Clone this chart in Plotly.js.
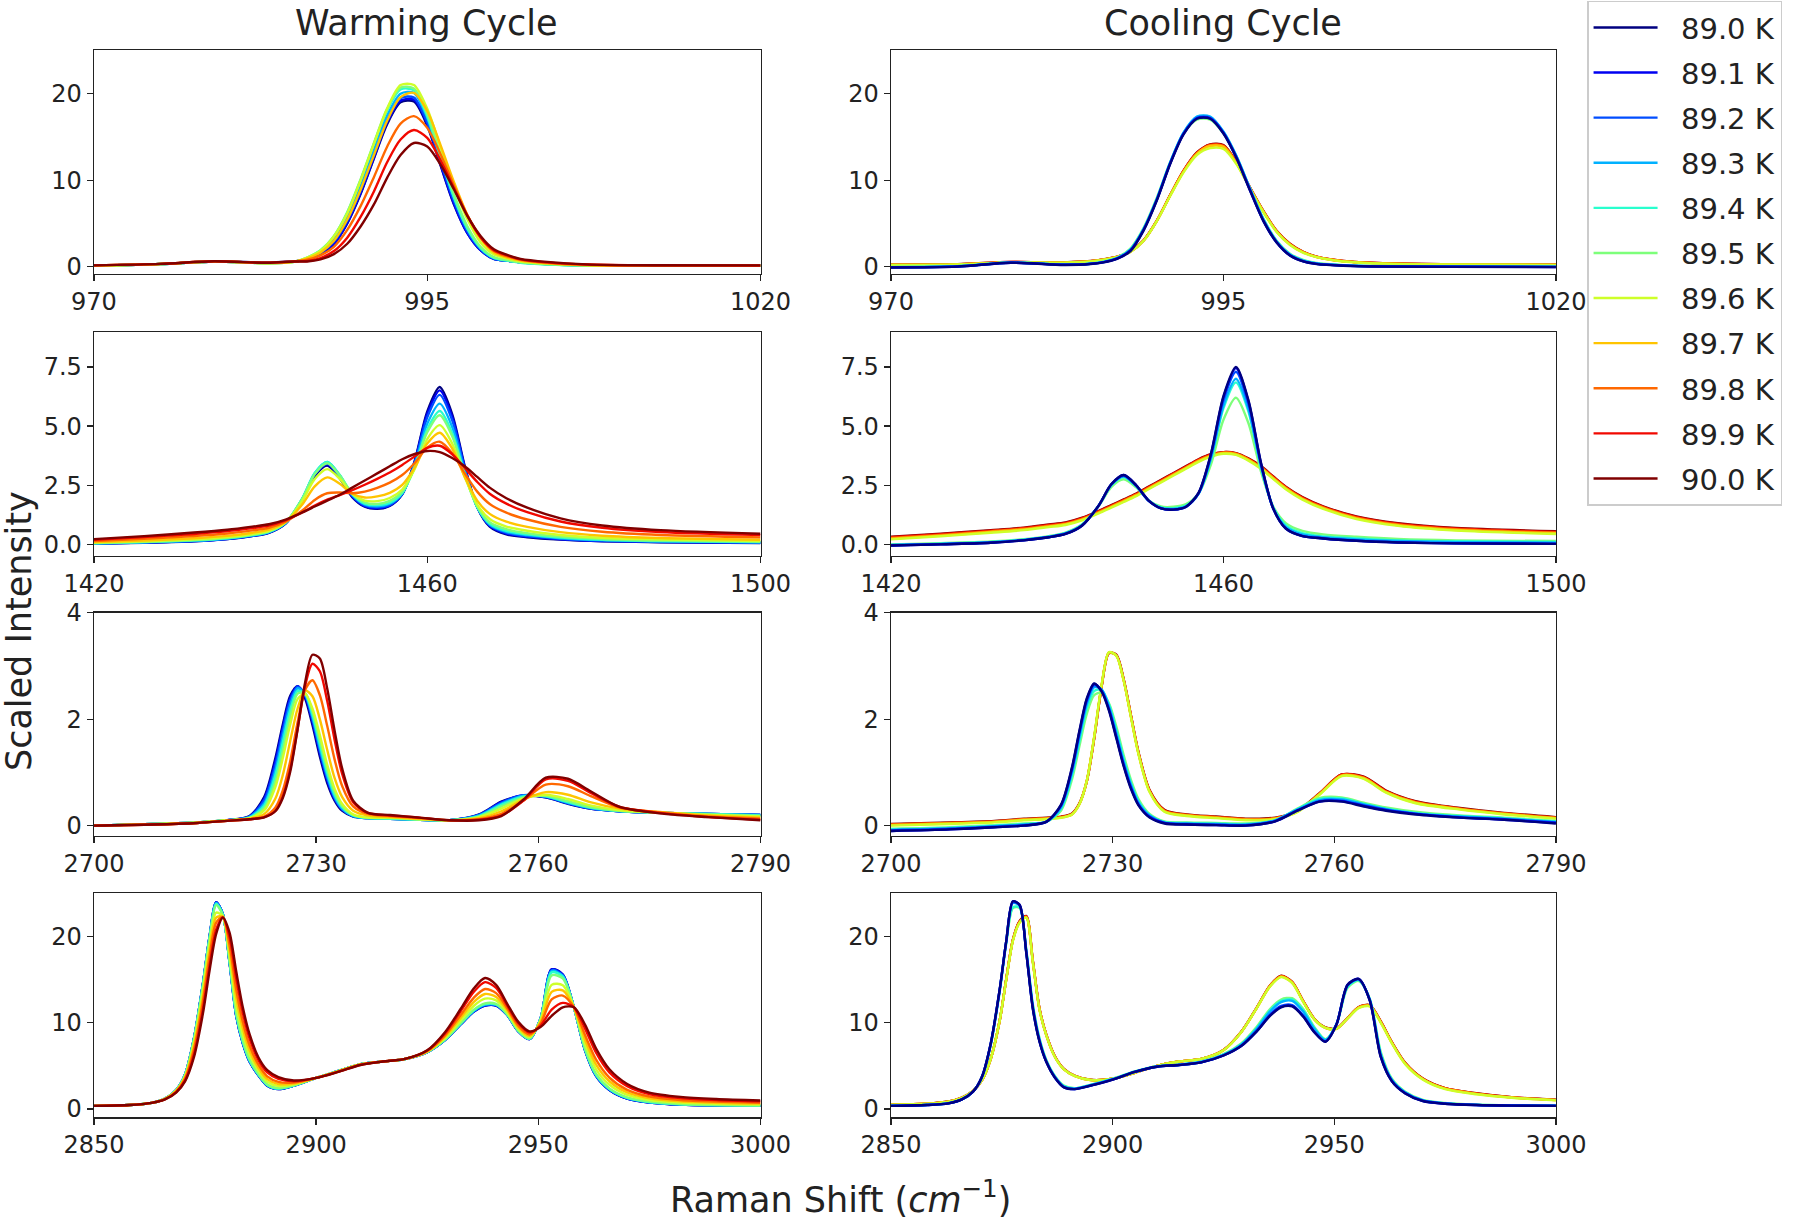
<!DOCTYPE html>
<html>
<head>
<meta charset="utf-8">
<script src="https://cdn.plot.ly/plotly-3.0.1.min.js"></script>
<style>html,body{margin:0;padding:0;background:#fff;}#chart{width:1800px;height:1220px;}</style>
</head>
<body>
<div id="chart"></div>
<script>
// ---- legend labels and colours (jet colormap) ----
const TEMPS = ['89.0 K','89.1 K','89.2 K','89.3 K','89.4 K','89.5 K','89.6 K','89.7 K','89.8 K','89.9 K','90.0 K'];
const COLORS = ['#000080','#0000f1','#004dff','#00b1ff','#29ffce','#7dff7a','#ceff29','#ffc400','#ff6800','#f10800','#800000'];

// ---- tick values ----
const TICKS_X1 = [970, 995, 1020], TICKS_Y1 = [0, 10, 20];
const TICKS_X2 = [1420, 1460, 1500], TICKS_Y2 = [0, 2.5, 5, 7.5];
const TICKS_X3 = [2700, 2730, 2760, 2790], TICKS_Y3 = [0, 2, 4];
const TICKS_X4 = [2850, 2900, 2950, 3000], TICKS_Y4 = [0, 10, 20];

// ---- Raman shift sample positions ----
const X1 = [970,975,979,983,985,986,987,988,989,990,991,992,993,994,995,996,997,998,999,1000,1001,1002,1004,1007,1012,1020];
const X2 = [1420,1426,1432,1436,1439,1441,1443,1445,1446.5,1448,1449.5,1451,1452.5,1454,1455.5,1457,1458.5,1460,1461.5,1463,1464.5,1466,1467.5,1469.5,1472,1476,1481,1488,1500];
const X3 = [2700,2708,2714,2718,2721,2723,2724.5,2725.5,2726.5,2727.5,2728.5,2729.5,2730.5,2731.5,2732.5,2733.5,2735,2737,2740,2744,2748,2752,2755,2758,2761,2764,2767,2771,2777,2783,2790];
const X4 = [2850,2858,2863,2866,2868.5,2870.5,2872.5,2874.5,2876,2877.5,2879,2880.5,2882,2883.5,2885,2887,2889,2891.5,2895,2900,2905,2910,2915,2920,2925,2929,2932.5,2935.5,2938,2940.5,2943,2945.5,2948,2950.5,2953,2955.5,2958,2960.5,2963,2966,2970,2975,2982,2990,3000];

// ---- Warming cycle, band 1 ----
const W1_890 = [0.1,0.3,0.6,0.5,0.6,0.85,1.4,2.6,5.0,8.4,12.5,16.5,19.0,19.1,16.3,11.7,7.2,3.9,1.9,0.9,0.7,0.5,0.3,0.15,0.1,0.1];
const W1_891 = [0.1,0.3,0.6,0.45,0.6,0.85,1.4,2.6,5.05,8.5,12.6,16.7,19.2,19.3,16.5,11.8,7.3,3.9,1.9,0.9,0.7,0.5,0.3,0.15,0.1,0.1];
const W1_892 = [0.1,0.3,0.6,0.45,0.6,0.9,1.6,2.9,5.35,8.85,13.0,17.0,19.5,19.55,16.7,12.1,7.6,4.1,2.0,0.9,0.7,0.5,0.3,0.15,0.1,0.1];
const W1_893 = [0.1,0.3,0.6,0.4,0.55,0.95,1.7,3.2,5.75,9.3,13.5,17.5,20.0,20.1,17.2,12.6,8.1,4.5,2.2,1.0,0.7,0.5,0.27,0.13,0.1,0.1];
const W1_894 = [0.1,0.3,0.6,0.4,0.55,1.05,1.9,3.5,6.25,10.0,14.2,18.1,20.5,20.4,17.4,12.6,8.0,4.4,2.15,1.0,0.7,0.45,0.25,0.12,0.1,0.1];
const W1_895 = [0.1,0.3,0.6,0.4,0.55,1.05,1.9,3.55,6.3,10.1,14.3,18.3,20.7,20.6,17.65,13.0,8.4,4.7,2.3,1.1,0.75,0.5,0.27,0.13,0.1,0.1];
const W1_896 = [0.1,0.3,0.6,0.4,0.55,1.05,1.85,3.5,6.15,9.95,14.2,18.3,21.0,21.0,18.25,13.8,9.3,5.5,2.8,1.4,0.95,0.6,0.35,0.15,0.1,0.1];
const W1_897 = [0.12,0.3,0.6,0.42,0.57,0.95,1.65,3.0,5.45,8.9,12.9,16.9,19.6,20.1,18.0,14.05,9.8,6.0,3.25,1.65,1.05,0.7,0.4,0.2,0.12,0.12];
const W1_898 = [0.15,0.32,0.62,0.45,0.6,0.8,1.3,2.3,4.25,7.0,10.35,13.9,16.55,17.4,16.05,13.0,9.4,6.0,3.4,1.8,1.2,0.8,0.45,0.22,0.14,0.13];
const W1_899 = [0.15,0.32,0.62,0.45,0.6,0.65,1.0,1.8,3.35,5.75,8.7,12.1,14.7,15.8,14.9,12.3,9.1,5.9,3.4,1.9,1.3,0.85,0.5,0.25,0.15,0.14];
const W1_900 = [0.15,0.32,0.62,0.45,0.6,0.6,0.85,1.45,2.65,4.65,7.2,10.3,12.9,14.3,13.9,11.8,8.95,5.9,3.55,2.0,1.35,0.9,0.55,0.27,0.16,0.15];

// ---- Cooling cycle, band 1 ----
const C1_890 = [-0.1,0.0,0.45,0.2,0.3,0.5,0.9,1.8,4.2,7.7,11.9,15.3,17.1,17.1,15.4,12.5,8.8,5.3,2.8,1.3,0.6,0.3,0.1,0.0,-0.02,-0.05];
const C1_891 = [-0.08,0.02,0.46,0.22,0.32,0.52,0.92,1.85,4.25,7.75,11.95,15.35,17.15,17.15,15.45,12.5,8.8,5.3,2.8,1.3,0.62,0.32,0.12,0.02,0.0,-0.04];
const C1_892 = [-0.07,0.03,0.47,0.23,0.33,0.53,0.95,1.9,4.3,7.8,12.0,15.4,17.2,17.2,15.5,12.6,8.9,5.35,2.85,1.35,0.65,0.33,0.13,0.03,0.0,-0.03];
const C1_893 = [-0.06,0.04,0.48,0.24,0.34,0.55,0.97,1.95,4.35,7.85,12.05,15.5,17.35,17.35,15.6,12.7,9.0,5.45,2.9,1.4,0.7,0.36,0.15,0.04,0.01,-0.02];
const C1_894 = [-0.05,0.05,0.48,0.25,0.35,0.56,1.0,2.0,4.4,7.9,12.1,15.5,17.3,17.3,15.6,12.7,9.0,5.5,2.95,1.45,0.72,0.38,0.16,0.05,0.02,-0.01];
const C1_895 = [-0.04,0.06,0.5,0.27,0.37,0.6,1.05,2.1,4.5,8.0,12.1,15.4,17.0,17.0,15.4,12.6,9.0,5.55,3.0,1.5,0.78,0.42,0.18,0.07,0.03,0.0];
const C1_896 = [0.2,0.25,0.5,0.45,0.6,0.8,1.1,1.7,3.0,5.3,8.2,10.9,12.9,13.7,13.6,11.8,9.0,6.3,4.0,2.5,1.6,1.1,0.6,0.35,0.25,0.2];
const C1_897 = [0.21,0.26,0.52,0.47,0.62,0.82,1.12,1.72,3.02,5.32,8.25,11.0,13.05,13.95,13.85,11.9,9.05,6.35,4.05,2.55,1.65,1.12,0.62,0.37,0.26,0.21];
const C1_898 = [0.22,0.27,0.53,0.48,0.63,0.83,1.13,1.73,3.03,5.33,8.28,11.05,13.1,14.05,13.95,11.95,9.1,6.4,4.1,2.6,1.68,1.14,0.64,0.38,0.27,0.22];
const C1_899 = [0.23,0.28,0.54,0.49,0.64,0.84,1.14,1.74,3.04,5.34,8.3,11.1,13.15,14.1,14.0,12.0,9.12,6.42,4.12,2.62,1.7,1.15,0.65,0.39,0.28,0.23];
const C1_900 = [0.24,0.29,0.55,0.5,0.65,0.85,1.15,1.75,3.05,5.35,8.3,11.1,13.2,14.15,14.05,12.0,9.15,6.45,4.15,2.65,1.72,1.16,0.66,0.4,0.29,0.24];

// ---- Warming cycle, band 2 ----
const W2_890 = [0.03,0.07,0.13,0.22,0.35,0.49,0.88,1.86,2.89,3.33,2.79,2.0,1.59,1.5,1.62,2.11,3.53,5.61,6.65,5.5,3.31,1.57,0.75,0.42,0.3,0.2,0.13,0.09,0.06];
const W2_891 = [0.034,0.076,0.137,0.228,0.358,0.5,0.89,1.89,2.94,3.39,2.85,2.03,1.62,1.53,1.65,2.13,3.5,5.51,6.51,5.39,3.26,1.58,0.78,0.45,0.325,0.218,0.143,0.1,0.068];
const W2_892 = [0.038,0.081,0.145,0.236,0.366,0.51,0.9,1.91,2.97,3.43,2.87,2.06,1.65,1.57,1.67,2.15,3.45,5.37,6.32,5.24,3.2,1.58,0.81,0.49,0.35,0.236,0.157,0.11,0.076];
const W2_893 = [0.043,0.09,0.156,0.248,0.378,0.52,0.91,1.93,3.01,3.48,2.92,2.1,1.69,1.61,1.72,2.15,3.36,5.1,5.95,4.96,3.08,1.58,0.84,0.53,0.39,0.26,0.18,0.13,0.09];
const W2_894 = [0.049,0.098,0.167,0.26,0.39,0.53,0.92,1.94,3.02,3.48,2.93,2.12,1.72,1.66,1.76,2.17,3.27,4.87,5.64,4.71,2.97,1.57,0.88,0.57,0.425,0.29,0.197,0.141,0.099];
const W2_895 = [0.057,0.109,0.182,0.276,0.406,0.55,0.93,1.92,2.97,3.43,2.91,2.15,1.77,1.71,1.84,2.23,3.25,4.74,5.46,4.57,2.94,1.61,0.94,0.64,0.475,0.326,0.224,0.161,0.114];
const W2_896 = [0.072,0.129,0.211,0.308,0.438,0.57,0.93,1.83,2.76,3.18,2.77,2.14,1.85,1.83,1.96,2.32,3.19,4.45,5.04,4.26,2.85,1.68,1.07,0.75,0.575,0.398,0.277,0.202,0.145];
const W2_897 = [0.097,0.165,0.26,0.36,0.49,0.62,0.94,1.69,2.45,2.83,2.56,2.14,1.98,2.03,2.18,2.51,3.25,4.26,4.72,4.05,2.86,1.85,1.29,0.96,0.74,0.515,0.365,0.27,0.197];
const W2_898 = [0.144,0.238,0.352,0.46,0.59,0.702,0.96,1.43,1.88,2.16,2.19,2.16,2.23,2.39,2.61,2.93,3.44,4.09,4.34,3.85,3.0,2.23,1.71,1.34,1.05,0.74,0.532,0.396,0.294];
const W2_899 = [0.19,0.31,0.44,0.56,0.69,0.79,1.01,1.35,1.64,1.89,2.08,2.29,2.52,2.77,3.04,3.36,3.72,4.08,4.17,3.81,3.23,2.64,2.14,1.72,1.36,0.965,0.7,0.52,0.39];
const W2_900 = [0.22,0.35,0.5,0.62,0.75,0.85,1.05,1.35,1.6,1.85,2.1,2.4,2.7,3.0,3.3,3.6,3.82,3.95,3.9,3.65,3.3,2.85,2.4,1.95,1.55,1.1,0.8,0.6,0.45];

// ---- Cooling cycle, band 2 ----
const C2_890 = [-0.05,0.0,0.07,0.17,0.3,0.44,0.8,1.65,2.54,2.93,2.5,1.85,1.52,1.47,1.59,2.18,3.84,6.27,7.5,6.1,3.47,1.51,0.67,0.35,0.25,0.15,0.08,0.04,0.02];
const C2_891 = [-0.05,0.0,0.07,0.17,0.3,0.44,0.8,1.65,2.54,2.93,2.5,1.85,1.52,1.47,1.59,2.17,3.82,6.22,7.45,6.06,3.45,1.5,0.67,0.35,0.25,0.15,0.08,0.04,0.02];
const C2_892 = [-0.04,0.01,0.08,0.18,0.31,0.45,0.8,1.64,2.52,2.9,2.48,1.84,1.52,1.47,1.58,2.15,3.75,6.1,7.3,5.94,3.4,1.5,0.68,0.36,0.26,0.16,0.09,0.05,0.03];
const C2_893 = [-0.03,0.02,0.09,0.19,0.32,0.47,0.82,1.65,2.52,2.88,2.47,1.85,1.54,1.5,1.61,2.14,3.65,5.87,7.0,5.72,3.32,1.53,0.74,0.42,0.3,0.21,0.14,0.09,0.07];
const C2_894 = [-0.02,0.03,0.1,0.2,0.33,0.48,0.83,1.65,2.5,2.85,2.46,1.86,1.56,1.53,1.64,2.15,3.6,5.76,6.85,5.62,3.3,1.56,0.8,0.47,0.33,0.25,0.17,0.13,0.1];
const C2_895 = [0.0,0.05,0.12,0.22,0.35,0.5,0.85,1.62,2.42,2.75,2.41,1.86,1.6,1.59,1.7,2.15,3.38,5.27,6.2,5.13,3.1,1.59,0.9,0.57,0.42,0.32,0.23,0.17,0.14];
const C2_896 = [0.21,0.34,0.49,0.6,0.73,0.82,1.02,1.31,1.55,1.79,2.04,2.33,2.62,2.91,3.2,3.49,3.71,3.83,3.78,3.54,3.2,2.76,2.33,1.89,1.5,1.07,0.78,0.58,0.44];
const C2_897 = [0.24,0.37,0.52,0.63,0.76,0.85,1.05,1.34,1.58,1.82,2.07,2.36,2.65,2.94,3.23,3.52,3.74,3.86,3.81,3.57,3.23,2.79,2.36,1.92,1.53,1.1,0.81,0.61,0.47];
const C2_898 = [0.27,0.4,0.55,0.66,0.79,0.88,1.08,1.37,1.61,1.85,2.1,2.39,2.68,2.97,3.26,3.55,3.77,3.88,3.83,3.6,3.26,2.82,2.39,1.95,1.56,1.13,0.84,0.64,0.5];
const C2_899 = [0.3,0.43,0.58,0.69,0.82,0.91,1.11,1.4,1.64,1.88,2.13,2.42,2.71,3.0,3.29,3.58,3.8,3.9,3.85,3.62,3.29,2.85,2.42,1.98,1.59,1.16,0.87,0.67,0.53];
const C2_900 = [0.32,0.45,0.6,0.71,0.84,0.93,1.13,1.42,1.66,1.9,2.15,2.44,2.73,3.02,3.31,3.6,3.81,3.9,3.86,3.64,3.31,2.87,2.44,2.0,1.61,1.18,0.89,0.69,0.56];

// ---- Warming cycle, band 3 ----
const W3_890 = [0.0,0.03,0.06,0.1,0.18,0.54,1.27,1.9,2.44,2.62,2.39,1.89,1.3,0.8,0.47,0.28,0.17,0.14,0.13,0.11,0.1,0.21,0.45,0.56,0.53,0.41,0.32,0.27,0.24,0.22,0.2];
const W3_891 = [0.0,0.03,0.06,0.1,0.17,0.51,1.21,1.85,2.4,2.62,2.43,1.95,1.36,0.85,0.49,0.3,0.18,0.14,0.13,0.11,0.1,0.2,0.44,0.57,0.53,0.42,0.32,0.27,0.24,0.22,0.2];
const W3_892 = [0.0,0.03,0.06,0.1,0.17,0.48,1.14,1.78,2.35,2.61,2.46,2.0,1.41,0.89,0.52,0.31,0.18,0.14,0.13,0.11,0.1,0.2,0.43,0.57,0.54,0.42,0.33,0.27,0.24,0.22,0.2];
const W3_893 = [0.0,0.03,0.06,0.1,0.16,0.42,1.04,1.67,2.27,2.58,2.47,2.04,1.46,0.93,0.54,0.32,0.18,0.14,0.13,0.11,0.1,0.19,0.41,0.56,0.55,0.43,0.33,0.27,0.24,0.22,0.2];
const W3_894 = [0.0,0.03,0.06,0.1,0.15,0.38,0.95,1.56,2.17,2.53,2.48,2.09,1.53,0.99,0.58,0.35,0.19,0.14,0.13,0.11,0.1,0.18,0.39,0.55,0.55,0.44,0.34,0.28,0.24,0.22,0.19];
const W3_895 = [0.0,0.03,0.06,0.1,0.14,0.33,0.83,1.41,2.05,2.48,2.49,2.15,1.61,1.06,0.63,0.37,0.2,0.15,0.14,0.115,0.1,0.17,0.36,0.53,0.56,0.46,0.35,0.28,0.24,0.21,0.18];
const W3_896 = [0.0,0.03,0.06,0.1,0.14,0.29,0.73,1.27,1.9,2.38,2.48,2.2,1.7,1.14,0.69,0.41,0.21,0.15,0.15,0.12,0.1,0.16,0.32,0.51,0.58,0.5,0.38,0.29,0.24,0.2,0.17];
const W3_897 = [0.0,0.025,0.055,0.095,0.13,0.22,0.51,0.95,1.59,2.2,2.54,2.43,2.0,1.42,0.89,0.54,0.28,0.19,0.16,0.13,0.1,0.14,0.27,0.49,0.63,0.58,0.44,0.32,0.25,0.19,0.15];
const W3_898 = [0.0,0.02,0.05,0.09,0.12,0.17,0.34,0.66,1.21,1.94,2.55,2.73,2.45,1.87,1.24,0.75,0.36,0.22,0.18,0.14,0.1,0.12,0.22,0.47,0.77,0.74,0.56,0.34,0.24,0.17,0.13];
const W3_899 = [0.0,0.02,0.05,0.09,0.12,0.16,0.28,0.55,1.06,1.82,2.62,3.04,2.9,2.34,1.61,0.98,0.44,0.24,0.19,0.15,0.1,0.11,0.19,0.47,0.87,0.84,0.62,0.35,0.23,0.16,0.11];
const W3_900 = [0.0,0.02,0.05,0.09,0.12,0.155,0.27,0.52,1.01,1.81,2.68,3.21,3.14,2.57,1.78,1.08,0.47,0.24,0.2,0.15,0.1,0.1,0.18,0.49,0.9,0.88,0.65,0.35,0.22,0.16,0.1];

// ---- Cooling cycle, band 3 ----
const C3_890 = [-0.1,-0.07,-0.03,0.0,0.07,0.39,1.1,1.78,2.39,2.67,2.52,2.16,1.64,1.11,0.68,0.38,0.15,0.04,0.02,0.01,0.0,0.08,0.28,0.45,0.45,0.36,0.28,0.21,0.15,0.11,0.04];
const C3_891 = [-0.1,-0.07,-0.03,0.0,0.07,0.38,1.08,1.76,2.37,2.66,2.53,2.18,1.66,1.13,0.7,0.39,0.16,0.05,0.02,0.01,0.0,0.08,0.28,0.45,0.46,0.37,0.29,0.22,0.15,0.11,0.05];
const C3_892 = [-0.09,-0.06,-0.02,0.01,0.07,0.37,1.05,1.73,2.34,2.64,2.54,2.2,1.68,1.15,0.72,0.4,0.17,0.05,0.03,0.02,0.01,0.09,0.29,0.46,0.47,0.38,0.3,0.22,0.16,0.12,0.06];
const C3_893 = [-0.08,-0.05,-0.01,0.02,0.07,0.34,1.0,1.66,2.28,2.6,2.56,2.24,1.74,1.2,0.76,0.43,0.19,0.06,0.04,0.03,0.02,0.1,0.3,0.48,0.49,0.4,0.31,0.23,0.17,0.13,0.07];
const C3_894 = [-0.07,-0.04,0.0,0.03,0.07,0.31,0.94,1.58,2.2,2.53,2.55,2.28,1.8,1.26,0.8,0.46,0.2,0.07,0.05,0.04,0.03,0.1,0.31,0.5,0.51,0.41,0.32,0.24,0.18,0.14,0.08];
const C3_895 = [-0.06,-0.03,0.01,0.04,0.07,0.28,0.87,1.49,2.1,2.45,2.5,2.3,1.86,1.32,0.85,0.5,0.22,0.08,0.06,0.05,0.04,0.1,0.32,0.52,0.53,0.43,0.34,0.26,0.19,0.15,0.09];
const C3_896 = [0.0,0.03,0.06,0.1,0.12,0.145,0.21,0.4,0.84,1.67,2.64,3.26,3.19,2.72,2.02,1.34,0.63,0.26,0.18,0.14,0.1,0.12,0.25,0.58,0.93,0.88,0.62,0.42,0.3,0.21,0.13];
const C3_897 = [0.01,0.04,0.07,0.11,0.13,0.15,0.21,0.4,0.84,1.66,2.63,3.25,3.19,2.72,2.03,1.35,0.64,0.27,0.19,0.15,0.11,0.13,0.26,0.59,0.94,0.89,0.63,0.43,0.31,0.22,0.14];
const C3_898 = [0.02,0.05,0.08,0.12,0.14,0.16,0.22,0.41,0.84,1.65,2.62,3.25,3.2,2.73,2.04,1.36,0.65,0.28,0.2,0.16,0.12,0.14,0.27,0.6,0.95,0.9,0.64,0.44,0.32,0.23,0.15];
const C3_899 = [0.02,0.05,0.08,0.12,0.14,0.16,0.22,0.41,0.83,1.64,2.61,3.25,3.2,2.74,2.05,1.37,0.66,0.29,0.2,0.16,0.12,0.14,0.27,0.6,0.96,0.91,0.65,0.45,0.32,0.23,0.15];
const C3_900 = [0.03,0.06,0.09,0.13,0.15,0.17,0.23,0.42,0.83,1.63,2.6,3.24,3.21,2.75,2.06,1.38,0.67,0.3,0.21,0.17,0.13,0.15,0.28,0.61,0.96,0.92,0.66,0.46,0.33,0.24,0.16];

// ---- Warming cycle, band 4 ----
const W4_890 = [0.35,0.45,0.7,1.2,2.2,4.0,8.2,14.5,20.0,24.0,22.6,17.0,10.8,7.6,5.5,3.9,2.7,2.3,2.7,3.6,4.4,5.2,5.5,5.8,6.6,8.0,9.8,11.3,12.0,12.0,10.9,9.0,8.1,10.5,16.2,15.6,11.8,6.8,3.8,2.2,1.2,0.75,0.5,0.4,0.35];
const W4_891 = [0.35,0.45,0.7,1.2,2.2,4.0,8.15,14.45,19.95,24.0,22.65,17.05,10.85,7.6,5.5,3.9,2.7,2.3,2.7,3.6,4.4,5.2,5.5,5.8,6.6,8.0,9.8,11.3,12.0,12.0,10.9,9.0,8.1,10.5,16.2,15.6,11.8,6.85,3.85,2.2,1.2,0.75,0.5,0.4,0.35];
const W4_892 = [0.35,0.45,0.7,1.2,2.2,3.99,8.15,14.4,19.9,23.95,22.6,17.1,10.9,7.7,5.55,3.95,2.75,2.33,2.71,3.6,4.4,5.2,5.5,5.8,6.6,8.02,9.84,11.35,12.06,12.05,10.93,9.02,8.12,10.48,16.1,15.5,11.8,6.86,3.86,2.25,1.23,0.77,0.52,0.42,0.36];
const W4_893 = [0.35,0.45,0.7,1.2,2.19,3.98,8.13,14.4,19.9,23.9,22.6,17.1,10.96,7.73,5.6,3.96,2.75,2.34,2.72,3.6,4.4,5.2,5.5,5.8,6.61,8.03,9.85,11.38,12.1,12.07,10.94,9.03,8.13,10.47,16.0,15.45,11.8,6.89,3.9,2.27,1.25,0.78,0.53,0.42,0.37];
const W4_894 = [0.35,0.45,0.7,1.2,2.19,3.96,8.09,14.33,19.8,23.8,22.55,17.18,11.06,7.81,5.66,4.0,2.79,2.37,2.73,3.6,4.4,5.2,5.5,5.8,6.61,8.05,9.89,11.44,12.16,12.12,10.97,9.06,8.15,10.45,15.85,15.35,11.8,6.95,3.96,2.32,1.29,0.81,0.55,0.44,0.38];
const W4_895 = [0.35,0.45,0.7,1.19,2.18,3.94,8.02,14.22,19.68,23.65,22.5,17.28,11.22,7.94,5.76,4.07,2.84,2.41,2.75,3.6,4.39,5.19,5.5,5.8,6.62,8.07,9.94,11.52,12.26,12.19,11.0,9.09,8.17,10.42,15.5,15.15,11.8,7.04,4.06,2.39,1.34,0.84,0.57,0.46,0.4];
const W4_896 = [0.35,0.45,0.7,1.18,2.13,3.8,7.65,13.63,19.0,22.78,22.35,17.88,12.1,8.65,6.3,4.43,3.15,2.65,2.85,3.6,4.38,5.18,5.5,5.8,6.65,8.23,10.25,11.98,12.8,12.6,11.23,9.28,8.33,10.25,14.4,14.35,11.8,7.55,4.6,2.8,1.63,1.04,0.73,0.59,0.51];
const W4_897 = [0.35,0.45,0.7,1.16,2.07,3.66,7.28,13.03,18.32,22.21,22.32,18.47,12.98,9.36,6.84,4.78,3.46,2.89,2.95,3.6,4.36,5.16,5.5,5.8,6.68,8.38,10.56,12.43,13.34,13.0,11.45,9.46,8.48,10.08,13.58,13.77,11.8,8.06,5.14,3.21,1.91,1.23,0.88,0.72,0.61];
const W4_898 = [0.35,0.45,0.7,1.14,2.02,3.52,6.88,12.4,17.6,21.62,22.28,19.1,13.92,10.12,7.42,5.16,3.78,3.14,3.06,3.6,4.34,5.14,5.5,5.8,6.72,8.54,10.88,12.92,13.92,13.44,11.68,9.66,8.64,9.9,12.72,13.16,11.8,8.6,5.72,3.64,2.22,1.44,1.04,0.85,0.72];
const W4_899 = [0.35,0.45,0.7,1.12,1.95,3.32,6.33,11.53,16.6,20.8,22.23,19.98,15.22,11.17,8.22,5.69,4.23,3.49,3.21,3.6,4.32,5.12,5.5,5.8,6.77,8.77,11.33,13.6,14.72,14.04,12.0,9.94,8.87,9.65,11.52,12.31,11.8,9.35,6.52,4.24,2.65,1.73,1.27,1.04,0.88];
const W4_900 = [0.35,0.45,0.7,1.1,1.9,3.2,6.0,11.0,16.0,20.3,22.2,20.5,16.0,11.8,8.7,6.0,4.5,3.7,3.3,3.6,4.3,5.1,5.5,5.8,6.8,8.9,11.6,14.0,15.2,14.4,12.2,10.1,9.0,9.5,10.8,11.8,11.8,9.8,7.0,4.6,2.9,1.9,1.4,1.15,0.97];

// ---- Cooling cycle, band 4 ----
const C4_890 = [0.35,0.45,0.65,1.1,2.0,3.7,7.6,13.8,19.5,24.1,23.7,18.2,11.6,7.8,5.5,3.6,2.5,2.3,2.7,3.4,4.3,4.9,5.1,5.4,6.2,7.3,9.0,10.8,11.8,11.9,10.7,8.9,7.8,9.8,14.4,15.1,12.6,6.0,3.2,1.8,0.9,0.6,0.45,0.38,0.35];
const C4_891 = [0.35,0.45,0.65,1.1,2.0,3.7,7.6,13.8,19.5,24.1,23.7,18.2,11.65,7.85,5.5,3.62,2.52,2.3,2.7,3.4,4.3,4.9,5.1,5.4,6.2,7.3,9.0,10.85,11.85,11.95,10.75,8.92,7.82,9.82,14.4,15.1,12.6,6.05,3.22,1.82,0.92,0.6,0.45,0.38,0.35];
const C4_892 = [0.35,0.45,0.66,1.1,2.0,3.7,7.55,13.75,19.45,24.0,23.65,18.3,11.75,7.9,5.55,3.65,2.55,2.32,2.72,3.42,4.3,4.9,5.1,5.42,6.22,7.35,9.1,10.95,11.95,12.05,10.85,8.98,7.86,9.84,14.35,15.05,12.65,6.15,3.28,1.86,0.95,0.62,0.46,0.39,0.36];
const C4_893 = [0.36,0.46,0.67,1.11,2.0,3.68,7.5,13.7,19.4,23.9,23.6,18.4,11.9,8.0,5.6,3.7,2.6,2.35,2.75,3.45,4.32,4.92,5.12,5.45,6.27,7.45,9.3,11.3,12.4,12.55,11.3,9.3,8.0,9.85,14.3,15.0,12.7,6.3,3.35,1.9,0.98,0.64,0.47,0.4,0.37];
const C4_894 = [0.36,0.46,0.67,1.11,2.0,3.66,7.45,13.6,19.3,23.4,23.4,18.5,12.0,8.1,5.65,3.75,2.65,2.38,2.78,3.47,4.33,4.93,5.13,5.47,6.3,7.5,9.4,11.45,12.55,12.7,11.45,9.4,8.05,9.85,14.2,14.95,12.75,6.4,3.4,1.95,1.0,0.65,0.48,0.41,0.38];
const C4_895 = [0.37,0.47,0.68,1.12,2.0,3.64,7.4,13.5,19.2,23.3,23.35,18.6,12.15,8.2,5.75,3.8,2.7,2.4,2.8,3.5,4.35,4.95,5.15,5.5,6.35,7.6,9.55,11.6,12.7,12.85,11.6,9.5,8.1,9.8,14.05,14.85,12.8,6.6,3.5,2.0,1.05,0.68,0.5,0.42,0.39];
const C4_896 = [0.5,0.6,0.85,1.3,2.1,3.3,5.8,10.2,15.0,19.5,21.6,22.2,17.0,11.5,8.6,6.0,4.6,3.8,3.35,3.5,4.2,5.0,5.5,5.8,6.8,8.9,11.7,14.2,15.3,14.6,12.4,10.4,9.4,9.3,10.5,11.7,11.9,10.0,7.6,5.2,3.4,2.3,1.7,1.3,1.0];
const C4_897 = [0.5,0.6,0.85,1.3,2.1,3.3,5.8,10.2,15.0,19.55,21.65,22.25,17.05,11.55,8.6,6.0,4.6,3.8,3.35,3.5,4.2,5.0,5.5,5.8,6.8,8.9,11.7,14.25,15.35,14.65,12.45,10.4,9.4,9.3,10.5,11.75,11.95,10.05,7.65,5.25,3.45,2.35,1.75,1.32,1.02];
const C4_898 = [0.5,0.6,0.85,1.3,2.1,3.3,5.8,10.2,15.05,19.6,21.7,22.3,17.1,11.6,8.65,6.05,4.62,3.82,3.36,3.5,4.2,5.0,5.5,5.8,6.82,8.92,11.72,14.28,15.4,14.7,12.48,10.42,9.42,9.32,10.52,11.78,12.0,10.1,7.7,5.3,3.48,2.38,1.78,1.34,1.04];
const C4_899 = [0.51,0.61,0.86,1.31,2.1,3.3,5.8,10.2,15.05,19.6,21.75,22.35,17.15,11.62,8.66,6.06,4.63,3.83,3.37,3.5,4.2,5.0,5.5,5.8,6.83,8.93,11.74,14.3,15.42,14.72,12.5,10.44,9.44,9.33,10.54,11.8,12.02,10.12,7.72,5.32,3.5,2.4,1.8,1.35,1.05];
const C4_900 = [0.52,0.62,0.87,1.32,2.1,3.3,5.8,10.2,15.1,19.65,21.8,22.4,17.2,11.65,8.68,6.08,4.65,3.85,3.38,3.5,4.2,5.0,5.5,5.8,6.84,8.95,11.76,14.32,15.45,14.75,12.52,10.46,9.46,9.35,10.56,11.82,12.05,10.15,7.75,5.35,3.52,2.42,1.82,1.37,1.07];

// ---- assemble ----
const W1 = [W1_890,W1_891,W1_892,W1_893,W1_894,W1_895,W1_896,W1_897,W1_898,W1_899,W1_900];
const C1 = [C1_890,C1_891,C1_892,C1_893,C1_894,C1_895,C1_896,C1_897,C1_898,C1_899,C1_900];
const W2 = [W2_890,W2_891,W2_892,W2_893,W2_894,W2_895,W2_896,W2_897,W2_898,W2_899,W2_900];
const C2 = [C2_890,C2_891,C2_892,C2_893,C2_894,C2_895,C2_896,C2_897,C2_898,C2_899,C2_900];
const W3 = [W3_890,W3_891,W3_892,W3_893,W3_894,W3_895,W3_896,W3_897,W3_898,W3_899,W3_900];
const C3 = [C3_890,C3_891,C3_892,C3_893,C3_894,C3_895,C3_896,C3_897,C3_898,C3_899,C3_900];
const W4 = [W4_890,W4_891,W4_892,W4_893,W4_894,W4_895,W4_896,W4_897,W4_898,W4_899,W4_900];
const C4 = [C4_890,C4_891,C4_892,C4_893,C4_894,C4_895,C4_896,C4_897,C4_898,C4_899,C4_900];

const panels = [
  {x: X1, ys: W1, n: '',  cool: false},
  {x: X1, ys: C1, n: '2', cool: true},
  {x: X2, ys: W2, n: '3', cool: false},
  {x: X2, ys: C2, n: '4', cool: true},
  {x: X3, ys: W3, n: '5', cool: false},
  {x: X3, ys: C3, n: '6', cool: true},
  {x: X4, ys: W4, n: '7', cool: false},
  {x: X4, ys: C4, n: '8', cool: true}
];

const traces = [];
panels.forEach((p, pi) => {
  const order = [0,1,2,3,4,5,6,7,8,9,10];
  if (p.cool) order.reverse();
  order.forEach(i => {
    traces.push({
      type: 'scatter', mode: 'lines',
      x: p.x, y: p.ys[i],
      xaxis: 'x' + p.n, yaxis: 'y' + p.n,
      name: '\u00a0\u00a0' + TEMPS[i], legendgroup: TEMPS[i], showlegend: pi === 0,
      line: {color: COLORS[i], width: 2.4, shape: 'spline', smoothing: 0.8},
      hoverinfo: 'skip'
    });
  });
});

const FONT = 'DejaVu Sans, Arial, sans-serif';
const LX = [0.0522, 0.4225], RX = [0.495, 0.8644];
const ROWS = [[0.7754, 0.959], [0.5443, 0.7279], [0.3148, 0.4978], [0.0842, 0.2678]];
const XR = [[970, 1020], [1420, 1500], [2700, 2790], [2850, 3000]];
const YR = [[-0.85, 25.05], [-0.49, 8.98], [-0.194, 4.0], [-0.97, 25.03]];
const XT = [TICKS_X1, TICKS_X2, TICKS_X3, TICKS_X4];
const YT = [TICKS_Y1, TICKS_Y2, TICKS_Y3, TICKS_Y4];

function axis(extra) {
  return Object.assign({
    showline: true, mirror: true, linecolor: '#222', linewidth: 1.3,
    ticks: 'outside', ticklen: 6, tickwidth: 1.3, tickcolor: '#222',
    showgrid: false, zeroline: false, fixedrange: true,
    tickfont: {family: FONT, size: 24, color: '#222'}
  }, extra);
}

const layout = {
  width: 1800, height: 1220, autosize: false,
  margin: {l: 0, r: 0, t: 0, b: 0},
  paper_bgcolor: '#fff', plot_bgcolor: '#fff',
  font: {family: FONT, color: '#222'},
  hovermode: false,
  showlegend: true,
  legend: {
    x: 0.8817, y: 0.9995, xanchor: 'left', yanchor: 'top',
    bgcolor: '#fff', bordercolor: '#cccccc', borderwidth: 1.5,
    font: {family: FONT, size: 29, color: '#222'},
    tracegroupgap: 4.4, itemwidth: 64,
    traceorder: 'grouped'
  },
  annotations: [
    {text: 'Warming Cycle', xref: 'paper', yref: 'paper', x: 0.2372, y: 0.9811, xanchor: 'center', yanchor: 'middle', showarrow: false, font: {family: FONT, size: 35, color: '#222'}},
    {text: 'Cooling Cycle', xref: 'paper', yref: 'paper', x: 0.6797, y: 0.9811, xanchor: 'center', yanchor: 'middle', showarrow: false, font: {family: FONT, size: 35, color: '#222'}},
    {text: 'Raman Shift (<i>cm</i><sup>\u22121</sup>)', xref: 'paper', yref: 'paper', x: 0.4667, y: 0.0189, xanchor: 'center', yanchor: 'middle', showarrow: false, font: {family: FONT, size: 35, color: '#222'}},
    {text: 'Scaled Intensity', xref: 'paper', yref: 'paper', x: 0.0106, y: 0.4828, xanchor: 'center', yanchor: 'middle', textangle: -90, showarrow: false, font: {family: FONT, size: 35, color: '#222'}}
  ]
};

for (let r = 0; r < 4; r++) {
  for (let c = 0; c < 2; c++) {
    const k = r * 2 + c + 1;
    const n = k === 1 ? '' : String(k);
    layout['xaxis' + n] = axis({domain: c === 0 ? LX : RX, range: XR[r], tickmode: 'array', tickvals: XT[r], anchor: 'y' + n});
    layout['yaxis' + n] = axis({domain: ROWS[r], range: YR[r], tickmode: 'array', tickvals: YT[r], anchor: 'x' + n,
      tickformat: r === 1 ? '.1f' : ''});
  }
}

Plotly.newPlot('chart', traces, layout, {staticPlot: true, displayModeBar: false});
</script>
</body>
</html>
